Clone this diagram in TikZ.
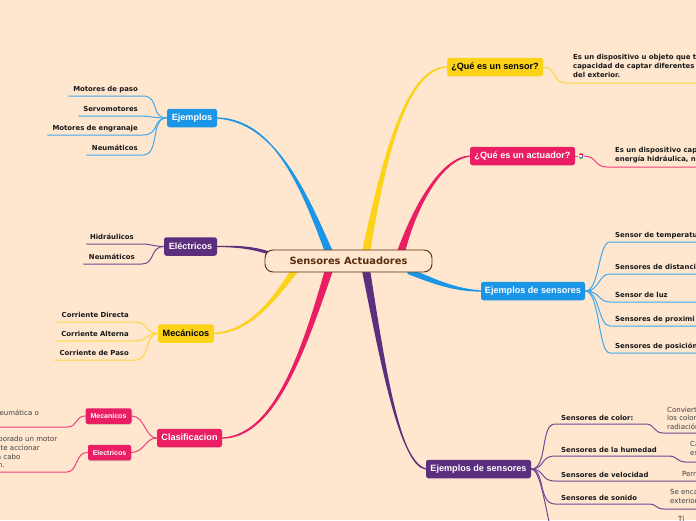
\documentclass[tikz,border=0pt]{standalone}
\usepackage{fontspec}
\setmainfont{DejaVu Sans}
\newfontfamily\hubfont{Liberation Sans}
\usetikzlibrary{backgrounds,calc,shadows}
\definecolor{pagebg}{HTML}{FEE6CF}
\definecolor{cblue}{HTML}{1B96E6}
\definecolor{cpurple}{HTML}{5C2E7E}
\definecolor{cyellow}{HTML}{FDD31A}
\definecolor{cpink}{HTML}{E91E63}
\definecolor{cbrown}{HTML}{5A2D0C}
\definecolor{lblue}{HTML}{3FA9EC}
\definecolor{lpurple}{HTML}{714A92}
\definecolor{lyellow}{HTML}{FDD63A}
\definecolor{lpink}{HTML}{EE3F7B}
\newcommand{\taper}[7]{\path[fill=#1,draw=#1,line width=1.2pt,line join=round] (#2) .. controls (#3) and (#4) .. ($(#5)+(#6,0)$) -- ($(#5)+(-#6,0)$) .. controls ($(#4)+(-#7,0)$) and ($(#3)+(0,-#7)$) .. (#2) -- cycle;}
\tikzset{
  hub/.style={rounded corners=2.5pt,inner sep=0pt,text height=7.2pt,text depth=1.4pt,font=\hubfont\bfseries\fontsize{9.1}{10}\selectfont,text=white,minimum height=18.5pt},
  subhub/.style={rounded corners=2pt,fill=cpink,inner sep=0pt,text=white,font=\hubfont\bfseries\fontsize{7}{8}\selectfont,minimum height=15.5pt,drop shadow={opacity=.3,shadow xshift=0.5pt,shadow yshift=-1pt}},
  leafl/.style={anchor=south east,inner xsep=0pt,inner ysep=3pt,align=right,text height=5.4pt,text depth=1.6pt,font=\bfseries\fontsize{6.9}{8}\selectfont,text=black!90},
  leafr/.style={anchor=south west,inner xsep=0pt,inner ysep=3pt,align=left,text height=5.4pt,text depth=1.6pt,font=\bfseries\fontsize{6.9}{8}\selectfont,text=black!90},
  body/.style={inner sep=0pt,align=left,font=\fontsize{7}{8.9}\selectfont,text=black!75},
  bodyb/.style={inner sep=0pt,align=left,font=\bfseries\fontsize{6.9}{8.9}\selectfont,text=black!90},
  thin line/.style={line width=1pt,line cap=round}
}
\begin{document}
\begin{tikzpicture}[x=1pt,y=-1pt]
\useasboundingbox (0,0) rectangle (696,520);
\coordinate (R) at (696,0);
\coordinate (L) at (0,0);
% centre
\node[draw=cbrown,line width=.9pt,fill=pagebg,rounded corners=8pt,minimum width=167pt,minimum height=22pt,inner sep=0pt,font=\bfseries\fontsize{9.9}{11}\selectfont,text=cbrown] (center) at (348.5,261) {Sensores Actuadores};
% main hubs
\node[hub,fill=cblue,minimum width=50pt] (ej) at (192,118) {Ejemplos};
\node[hub,fill=cpurple,minimum width=53pt] (el) at (190.5,246.5) {Eléctricos};
\node[hub,fill=cyellow,text=black,minimum width=56pt] (me) at (186,333.5) {Mecánicos};
\node[hub,fill=cpink,minimum width=65pt] (cl) at (189.5,438) {Clasificacion};
\node[hub,fill=cyellow,text=black,minimum width=96pt] (qs) at (495,67) {¿Qué es un sensor?};
\node[hub,fill=cpink,minimum width=105pt] (qa) at (522.5,156) {¿Qué es un actuador?};
\node[hub,fill=cblue,minimum width=104pt] (es) at (533,291) {Ejemplos de sensores};
\node[hub,fill=cpurple,minimum width=105pt] (ep) at (478.5,469) {Ejemplos de sensores};
\node[subhub,minimum width=46pt] (sm) at (108.5,416) {Mecanicos};
\node[subhub,minimum width=43pt] (se) at (109.5,452.5) {Electricos};
% left leaves
\node[leafl,text width=69pt] (a1) at (138,96) {Motores de paso};
\node[leafl,text width=59pt] (a2) at (138,116) {Servomotores};
\node[leafl,text width=90pt] (a3) at (138,135) {Motores de engranaje};
\node[leafl,text width=51pt] (a4) at (138,155) {Neumáticos};
\node[leafl,text width=47pt] (b1) at (134,244) {Hidráulicos};
\node[leafl,text width=51pt] (b2) at (135,264) {Neumáticos};
\node[leafl,text width=71pt] (c1) at (129,322) {Corriente Directa};
\node[leafl,text width=72pt] (c2) at (129,341) {Corriente Alterna};
\node[leafl,text width=74pt] (c3) at (129,360) {Corriente de Paso};
% left body text
\node[body,anchor=east] (t1) at (39,412.5) {eumática o};
\node[body,anchor=east] (t2) at (57.5,439.5) {porado un motor};
\node[body,anchor=east] (t3) at (40,448) {ite accionar};
\node[body,anchor=east] (t4) at (20.5,457) {a cabo};
\node[body,anchor=east] (t5) at (5,465.5) {n.};
% right top text
\node[bodyb,anchor=north west] (d1) at (573,54.5) {Es un dispositivo u objeto que t\\capacidad de captar diferentes\\del exterior.};
\node[bodyb,anchor=north west] (d2) at (615,147.5) {Es un dispositivo cap\\energía hidráulica, n};
% G icon
\node[circle,fill=white,inner sep=0pt,minimum size=5.5pt] (g) at (581,156) {};
\foreach \c/\s/\e in {red/30/140,yellow!90!orange/140/220,green!60!black/220/310,blue!70/310/390}
  \draw[\c,line width=1.1pt] ($(g.center)+(\s:2.2pt)$) arc[start angle=\s,end angle=\e,radius=2.2pt];
% blue leaves
\node[leafr] (s1) at (615,242) {Sensor de temperatu};
\node[leafr] (s2) at (615,274) {Sensores de distanci};
\node[leafr] (s3) at (615,302) {Sensor de luz};
\node[leafr] (s4) at (615,326) {Sensores de proximi};
\node[leafr] (s5) at (615,353) {Sensores de posición};
% purple leaves
\node[leafr,inner ysep=2pt] (p1) at (561,424) {Sensores de color:};
\node[leafr,inner ysep=2pt] (p2) at (561,456) {Sensores de la humedad};
\node[leafr,inner ysep=2pt] (p3) at (561,481) {Sensores de velocidad};
\node[leafr,inner ysep=2pt] (p4) at (561,504) {Sensores de sonido};
\node[body,anchor=north west] (q1) at (667,406.5) {Conviert\\los color\\radiación};
\node[body,anchor=north west] (q2) at (690,441.5) {Ca\\es};
\node[body,anchor=west] (q3) at (682,473.5) {Perm};
\node[body,anchor=north west] (q4) at (670,489.5) {Se enca\\exterior};
\node[body,anchor=north west] (q5) at (678,516) {Ti};
\coordinate (dn) at (550,526);

\begin{scope}[on background layer]
\fill[pagebg] (0,0) rectangle (696,520);
% tapered main branches
\coordinate (k1) at (329,252); \coordinate (k2) at (366,252); \coordinate (k3) at (401,252);
\coordinate (k4) at (408,271); \coordinate (k5) at (272,254); \coordinate (k6) at (295,270);
\coordinate (k7) at (329,270); \coordinate (k8) at (366,270);
\taper{cblue}{ej.east}{275,122}{305,190}{k1}{3.5}{2.5}
\taper{cyellow}{qs.west}{405,70}{385,160}{k2}{3.5}{2.5}
\taper{cpink}{qa.west}{440,160}{415,210}{k3}{3.5}{2.5}
\path[fill=cblue,draw=cblue,line width=1.2pt,line join=round] (es.west) .. controls (455,291) and (435,284) .. ($(k4)+(0,2.5)$) -- ($(k4)+(1,-2.5)$) .. controls (435,280) and (455,289) .. (es.west) -- cycle;
\path[fill=cpurple,draw=cpurple,line width=1.2pt,line join=round] (el.east) .. controls (240,246.5) and (255,249) .. ($(k5)+(0,1)$) -- ($(k5)+(0,-1)$) .. controls (255,247) and (240,246) .. (el.east) -- cycle;
\taper{cyellow}{me.east}{250,333}{275,300}{k6}{3.5}{2.5}
\taper{cpink}{cl.east}{275,438}{305,350}{k7}{3.5}{2.5}
\taper{cpurple}{ep.west}{400,465}{385,370}{k8}{3.5}{2.5}
% connectors
\begin{scope}[thin line,lblue]
\draw (ej.west) .. controls (150,118) and (160,96) .. (143,96) -- (a1.south west);
\draw (ej.west) .. controls (155,118) and (150,116) .. (138,116) -- (a2.south west);
\draw (ej.west) .. controls (152,118) and (160,135) .. (143,135) -- (a3.south west);
\draw (ej.west) .. controls (150,118) and (160,155) .. (143,155) -- (a4.south west);
\draw[line width=2pt] (es.east) -- ++(6,0);
\draw (es.east) .. controls (600,291) and (598,242) .. (610,242) -- (s1.south west -| R);
\draw (es.east) .. controls (600,291) and (598,274) .. (610,274) -- (s2.south west -| R);
\draw (es.east) .. controls (600,291) and (598,302) .. (610,302) -- (s3.south west -| R);
\draw (es.east) .. controls (600,291) and (598,326) .. (610,326) -- (s4.south west -| R);
\draw (es.east) .. controls (600,291) and (598,353) .. (610,353) -- (s5.south west -| R);
\end{scope}
\begin{scope}[thin line,lpurple]
\draw (el.west) .. controls (155,246.5) and (150,244) .. (142,244) -- (b1.south west);
\draw (el.west) .. controls (150,246.5) and (155,264) .. (142,264) -- (b2.south west);
\draw (ep.east) .. controls (548,469) and (540,424) .. (555,424) -- (647,424) .. controls (654,424) and (654,433) .. (663,433) -- (696,433);
\draw (ep.east) .. controls (545,469) and (540,456) .. (555,456) -- (670,456) .. controls (676,456) and (678,462) .. (685,462) -- (696,462);
\draw (ep.east) .. controls (545,469) and (540,481) .. (555,481) -- (p3.south west -| R);
\draw (ep.east) .. controls (545,469) and (538,504) .. (555,504) -- (650,504) .. controls (656,504) and (656,509) .. (664,509) -- (696,509);
\draw (ep.east) .. controls (540,469) and (545,505) .. (dn);
\end{scope}
\begin{scope}[thin line,lyellow]
\draw (me.west) .. controls (145,333) and (148,322) .. (136,322) -- (c1.south west);
\draw (me.west) .. controls (145,333) and (148,341) .. (136,341) -- (c2.south west);
\draw (me.west) .. controls (145,333) and (150,360) .. (136,360) -- (c3.south west);
\draw (qs.east) .. controls (557,67) and (552,83) .. (565,83) -- (696,83);
\end{scope}
\begin{scope}[thin line,lpink]
\draw (cl.west) .. controls (145,438) and (145,416) .. (sm.east);
\draw (cl.west) .. controls (145,438) and (145,452) .. (se.east);
\draw (sm.west) .. controls (75,416) and (78,427) .. (67,427) -- (0,427);
\draw (se.west) .. controls (75,452) and (78,472) .. (67,472) -- (0,472);
\draw (qa.east) -- (g.west);
\draw (g.east) .. controls (597,156) and (594,167) .. (607,167) -- (696,167);
\end{scope}
\end{scope}
\end{tikzpicture}
\end{document}
